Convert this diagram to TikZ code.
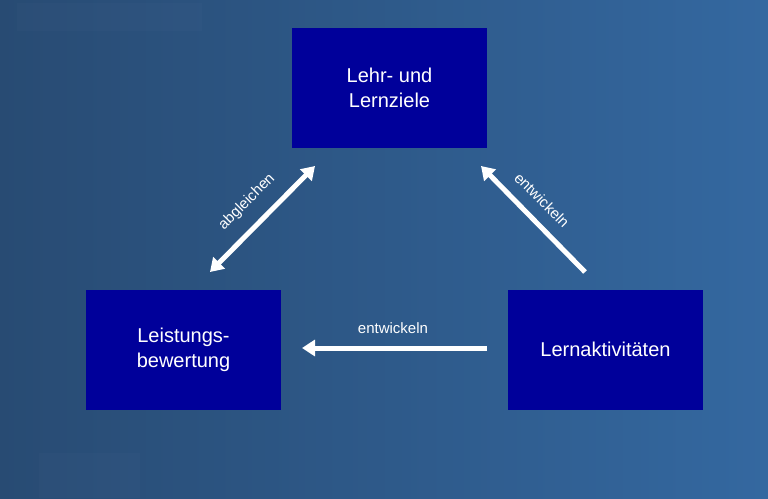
\documentclass[tikz,border=0pt]{standalone}
\usepackage{fontspec}
\setmainfont{Liberation Sans}
\usetikzlibrary{arrows.meta}
\definecolor{bgl}{HTML}{284B73}
\definecolor{bgr}{HTML}{3468A0}
\definecolor{boxc}{HTML}{00009A}
\begin{document}
\begin{tikzpicture}[x=1pt,y=-1pt,
  box/.style={fill=boxc,minimum width=195pt,minimum height=120pt,inner sep=0pt,text=white,align=center,font=\fontsize{20}{25}\selectfont},
  arr/.style={white,line width=5pt,-{Triangle[length=13pt,width=16pt]}},
  darr/.style={white,line width=5pt,{Triangle[length=13pt,width=16pt]}-{Triangle[length=13pt,width=16pt]}},
  lab/.style={text=white,font=\fontsize{15}{17}\selectfont}]
\shade[left color=bgl,right color=bgr] (0,0) rectangle (768,498);
\useasboundingbox (0,0) rectangle (768,498);
\fill[white,opacity=0.015] (17,3) rectangle (202,31);
\fill[white,opacity=0.015] (39,453) rectangle (140,498);
\node[box] (top) at (389.5,88) {Lehr- und\\Lernziele};
\node[box] (left) at (183.5,349.5) {Leistungs-\\bewertung};
\node[box] (right) at (605.5,349.5) {Lernaktivitäten};
\coordinate (a1) at (210,272);
\coordinate (a2) at (315,166);
\coordinate (b1) at (585,272);
\coordinate (b2) at (481,166);
\coordinate (c1) at (487,348);
\coordinate (c2) at (302,348);
\draw[darr] (a1) -- (a2);
\draw[arr] (b1) -- (b2);
\draw[arr] (c1) -- (c2);
\node[lab,rotate=45] (l1) at (247,202) {abgleichen};
\node[lab,rotate=-45] (l2) at (542,200) {entwickeln};
\node[lab] (l3) at (393,328) {entwickeln};
\end{tikzpicture}
\end{document}
